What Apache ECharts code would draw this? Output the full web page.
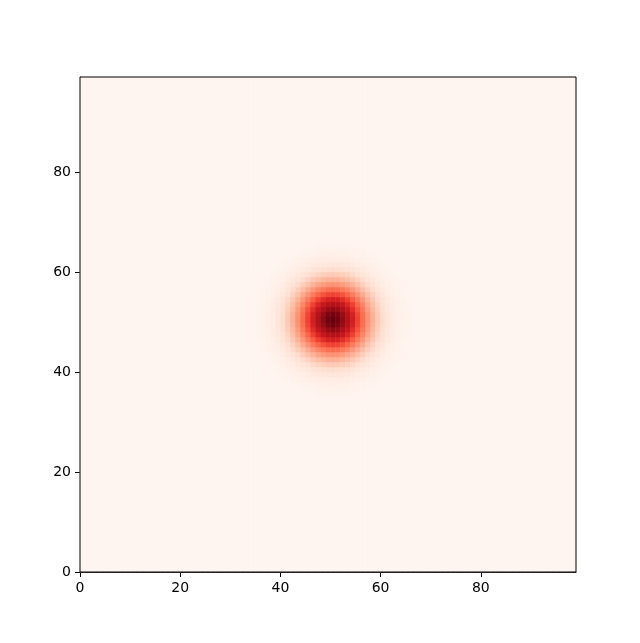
<!DOCTYPE html>
<html>
<head>
<meta charset="utf-8">
<script src="https://cdn.jsdelivr.net/npm/echarts@6/dist/echarts.min.js"></script>
<style>
html,body{margin:0;padding:0;background:#fff;}
#chart{width:640px;height:643px;}
</style>
</head>
<body>
<div id="chart"></div>
<script>
// Grid of 99 x 99 cells (0..98), peak at cell (50, 50)
var nCells = 99;
var peakX = 50;
var peakY = 50;
// Values read along the centre row, by distance in cells from the peak (0..16)
var rowProfile = [1.00, 0.98, 0.92, 0.835, 0.73, 0.61, 0.49, 0.375, 0.28, 0.20, 0.135, 0.09, 0.055, 0.034, 0.02, 0.011, 0.006];
// Values read along the centre column, by distance in cells from the peak (0..16)
var colProfile = [1.00, 0.98, 0.92, 0.835, 0.73, 0.61, 0.49, 0.375, 0.28, 0.20, 0.135, 0.09, 0.055, 0.034, 0.02, 0.011, 0.006];
var tickValues = [0, 20, 40, 60, 80];
var redsColors = ['#fff5f0','#fee0d2','#fcbba1','#fc9272','#fb6a4a','#ef3b2c','#cb181d','#a50f15','#67000d'];

function prof(arr, d) { return d < arr.length ? arr[d] : 0; }
var cats = [];
for (var i = 0; i < nCells; i++) cats.push(i);
var cells = [];
for (var x = 0; x < nCells; x++) {
  for (var y = 0; y < nCells; y++) {
    var v = prof(rowProfile, Math.abs(x - peakX)) * prof(colProfile, Math.abs(y - peakY));
    cells.push([x, y, v]);
  }
}

var font = 'DejaVu Sans';
var chart = echarts.init(document.getElementById('chart'), null, {renderer: 'canvas'});
chart.setOption({
  animation: false,
  backgroundColor: '#ffffff',
  grid: {left: 80, right: 64, top: 77, bottom: 71, show: true, borderColor: '#000', borderWidth: 1, backgroundColor: 'transparent', z: 10},
  visualMap: {show: false, min: 0, max: 1, calculable: false, seriesIndex: 0, inRange: {color: redsColors}},
  xAxis: [
    {type: 'category', data: cats, show: false, boundaryGap: true},
    {type: 'value', min: 0, max: nCells, position: 'bottom', splitLine: {show: false},
     axisLine: {show: true, lineStyle: {color: '#000', width: 1}},
     axisTick: {show: true, length: 5, inside: false, lineStyle: {color: '#000'}, customValues: tickValues},
     axisLabel: {color: '#000', fontFamily: font, fontSize: 14, margin: 9, customValues: tickValues}}
  ],
  yAxis: [
    {type: 'category', data: cats, show: false, boundaryGap: true},
    {type: 'value', min: 0, max: nCells, position: 'left', splitLine: {show: false},
     axisLine: {show: true, lineStyle: {color: '#000', width: 1}},
     axisTick: {show: true, length: 5, inside: false, lineStyle: {color: '#000'}, customValues: tickValues},
     axisLabel: {color: '#000', fontFamily: font, fontSize: 14, margin: 9, customValues: tickValues}}
  ],
  series: [{
    type: 'heatmap',
    xAxisIndex: 0,
    yAxisIndex: 0,
    data: cells,
    progressive: 0,
    itemStyle: {borderWidth: 0},
    emphasis: {disabled: true}
  }]
});
</script>
</body>
</html>
